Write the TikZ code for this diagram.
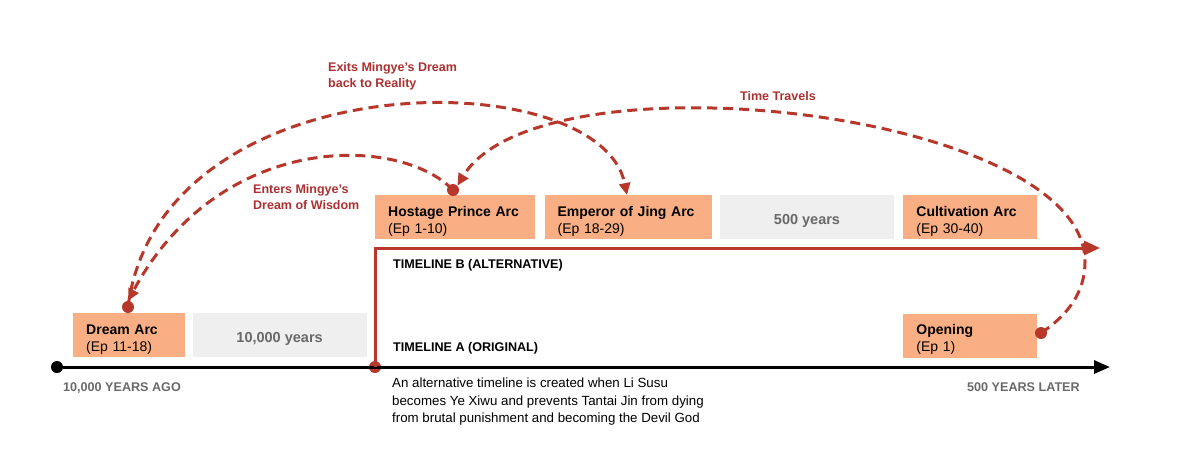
\documentclass[tikz,border=0pt]{standalone}
\usepackage{fontspec}
\setmainfont{Liberation Sans}
\usetikzlibrary{arrows.meta,positioning}
\definecolor{arcColor}{RGB}{249,175,131}
\definecolor{gapColor}{RGB}{239,239,239}
\definecolor{gapText}{RGB}{105,105,105}
\definecolor{travelColor}{RGB}{183,56,42}
\definecolor{noteColor}{RGB}{172,48,48}
\tikzset{arcbox/.style={fill=arcColor, align=left, anchor=north west, minimum height=44pt, inner xsep=13pt, inner ysep=0pt, font=\fontsize{14}{17.5}\selectfont, execute at begin node=\rule{0pt}{18pt}}}
\tikzset{gapbox/.style={arcbox, fill=gapColor, align=center, text=gapText, font=\fontsize{14.5}{17}\selectfont\bfseries}}
\tikzset{pin dot/.style={circle, fill=travelColor, inner sep=0pt, minimum size=12pt}}
\tikzset{note/.style={text=noteColor, align=left, anchor=north west, inner sep=0pt, font=\fontsize{12.5}{16}\selectfont\bfseries}}
\tikzset{travel/.style={draw=travelColor, line width=3pt, dash pattern=on 10pt off 6pt, -{Triangle[length=12pt, width=11pt, fill=travelColor]}}}

\begin{document}
\begin{tikzpicture}[x=1pt, y=-1pt, node distance=8pt]
\useasboundingbox (0,0) rectangle (1177,451);

% Timelines
\node (origin) [circle, fill=black, inner sep=0pt, minimum size=12pt] at (57,367) {};
\coordinate (endA) at (1110,367);
\node (split) [pin dot] at (375,367) {};
\coordinate (bend) at (375,248);
\coordinate (endB) at (1100,248);

\draw [line width=3pt, -{Triangle[length=16pt, width=13pt]}] (origin) -- (endA);
\draw [travelColor, line width=3pt, -{Triangle[length=16pt, width=14pt]}] (split.center) -- (bend) -- (endB);

% Arcs of the story
\node (dream) [arcbox, text width=86pt] at (73,313) {\textbf{Dream Arc}\\(Ep 11-18)};
\node (tenK) [gapbox, minimum width=174pt, right=7pt of dream] {10,000 years};

\node (hostage) [arcbox, text width=134pt] at (375,195) {\textbf{Hostage Prince Arc}\\(Ep 1-10)};
\node (emperor) [arcbox, text width=141pt, right=9pt of hostage] {\textbf{Emperor of Jing Arc}\\(Ep 18-29)};
\node (fiveH) [gapbox, minimum width=174pt, right=8pt of emperor] {500 years};
\node (cultivation) [arcbox, text width=108pt, right=9pt of fiveH] {\textbf{Cultivation Arc}\\(Ep 30-40)};
\node (opening) [arcbox, text width=108pt, below=74pt of cultivation] {\textbf{Opening}\\(Ep 1)};

% Timeline labels
\node (labelB) [anchor=north west, inner sep=0pt, font=\fontsize{12.6}{15}\selectfont\bfseries] at (393,259) {TIMELINE B (ALTERNATIVE)};
\node (labelA) [anchor=north west, inner sep=0pt, font=\fontsize{12.6}{15}\selectfont\bfseries] at (393,342) {TIMELINE A (ORIGINAL)};
\node (past) [anchor=north west, inner sep=0pt, text=gapText, font=\fontsize{12.6}{15}\selectfont\bfseries] at (63,382) {10,000 YEARS AGO};
\node (future) [anchor=north west, inner sep=0pt, text=gapText, font=\fontsize{12.6}{15}\selectfont\bfseries] at (967,382) {500 YEARS LATER};
\node (story) [anchor=north west, inner sep=0pt, align=left, font=\fontsize{13.3}{17.5}\selectfont] at (392,378) {An alternative timeline is created when Li Susu\\becomes Ye Xiwu and prevents Tantai Jin from dying\\from brutal punishment and becoming the Devil God};

% Time travels
\node (dreamPin) [pin dot] at (128,307) {};
\node (hostagePin) [pin dot] at (453,190) {};
\node (openingPin) [pin dot] at (1041,333) {};
\coordinate (emperorTip) at (627,195);
\coordinate (turn) at (1085,262);

\draw [travel] (dreamPin.center) .. controls (160,60) and (600,60) .. (emperorTip);
\draw [travel] (hostagePin.center) .. controls (400,135) and (220,130) .. (dreamPin.north);
\draw [travel] (openingPin.center) .. controls (1068,315) and (1085,292) .. (turn) .. controls (1085,110) and (540,50) .. (hostagePin.north east);

\node (exitNote) [note] at (328,62) {Exits Mingye’s Dream\\back to Reality};
\node (enterNote) [note] at (253,184) {Enters Mingye’s\\Dream of Wisdom};
\node (travelNote) [note] at (740,91) {Time Travels};

\end{tikzpicture}
\end{document}
